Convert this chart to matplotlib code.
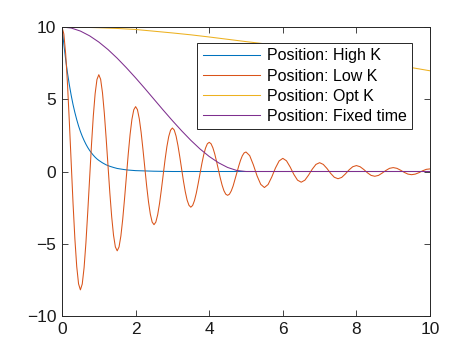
import matplotlib
matplotlib.use('Agg')
import matplotlib.pyplot as plt
import numpy as np

# time grids
t_fine = [round(0.05 * i, 2) for i in range(101)]          # 0 .. 5
t_coarse = [round(5.1 + 0.1 * i, 1) for i in range(50)]    # 5.1 .. 10

# Position: High K
t_high = [0, 0.05, 0.1, 0.15, 0.2, 0.25, 0.3, 0.35, 0.4, 0.45, 0.5, 0.55, 0.6, 0.65,
          0.7, 0.75, 0.8, 0.85, 0.9, 0.95, 1.0, 1.1, 1.2, 1.3, 1.4, 1.5, 1.6, 1.7,
          1.8, 1.9, 2.0, 2.5, 3.0, 10.0]
x_high = [10.0, 8.80, 7.74, 6.81, 5.99, 5.27, 4.63, 4.08, 3.59, 3.15, 2.77, 2.44, 2.15, 1.89,
          1.66, 1.46, 1.29, 1.13, 0.99, 0.87, 0.77, 0.60, 0.46, 0.36, 0.28, 0.21, 0.17, 0.13,
          0.10, 0.08, 0.06, 0.02, 0.0, 0.0]

# Position: Low K
x_low_fine = [10.00, 9.52, 8.13, 6.02, 3.41, 0.58, -2.20, -4.66, -6.57, -7.78,
              -8.19, -7.79, -6.66, -4.93, -2.79, -0.47, 1.80, 3.82, 5.38, 6.37,
              6.70, 6.38, 5.45, 4.04, 2.29, 0.39, -1.48, -3.13, -4.41, -5.22,
              -5.49, -5.22, -4.46, -3.30, -1.87, -0.32, 1.21, 2.56, 3.61, 4.27,
              4.49, 4.28, 3.65, 2.71, 1.53, 0.26, -0.99, -2.09, -2.95, -3.50,
              -3.68, -3.50, -2.99, -2.22, -1.26, -0.21, 0.81, 1.72, 2.42, 2.86,
              3.01, 2.87, 2.45, 1.81, 1.03, 0.17, -0.66, -1.40, -1.98, -2.34,
              -2.47, -2.35, -2.01, -1.49, -0.84, -0.14, 0.54, 1.15, 1.62, 1.92,
              2.02, 1.92, 1.64, 1.22, 0.69, 0.12, -0.44, -0.94, -1.33, -1.57,
              -1.65, -1.57, -1.34, -1.00, -0.56, -0.10, 0.36, 0.77, 1.09, 1.29,
              1.35]
x_low_coarse = [1.10, 0.46, -0.30, -0.89, -1.11, -0.90, -0.38, 0.24, 0.73,
                0.91, 0.74, 0.31, -0.20, -0.60, -0.74, -0.60, -0.25, 0.16, 0.49,
                0.61, 0.49, 0.21, -0.13, -0.40, -0.50, -0.41, -0.17, 0.11, 0.33,
                0.41, 0.33, 0.14, -0.09, -0.27, -0.33, -0.27, -0.11, 0.07, 0.22,
                0.27, 0.22, 0.09, -0.06, -0.18, -0.22, -0.18, -0.08, 0.05, 0.15,
                0.18]

# Position: Opt K
t_opt = [0, 0.5, 1.0, 1.5, 2.0, 2.5, 3.0, 3.5, 4.0, 4.5, 5.0, 5.5, 6.0, 6.5, 7.0,
         7.5, 8.0, 8.5, 9.0, 9.5, 10.0]
x_opt = [10.0, 9.99, 9.95, 9.90, 9.83, 9.71, 9.59, 9.46, 9.31, 9.15, 8.99, 8.84, 8.66,
         8.46, 8.25, 8.03, 7.81, 7.60, 7.39, 7.19, 6.97]

# Position: Fixed time
t_fixed = [0, 0.25, 0.5, 0.75, 1.0, 1.25, 1.5, 1.75, 2.0, 2.25, 2.5, 2.75, 3.0, 3.25,
           3.5, 3.75, 4.0, 4.25, 4.5, 4.75, 5.0, 10.0]
x_fixed = [10.0, 9.93, 9.72, 9.39, 8.96, 8.44, 7.84, 7.18, 6.48, 5.75, 5.00, 4.25, 3.52,
           2.82, 2.16, 1.56, 1.04, 0.61, 0.28, 0.07, 0.0, 0.0]

labels = ['Position: High K', 'Position: Low K', 'Position: Opt K', 'Position: Fixed time']
colors = ['#0072BD', '#D95319', '#EDB120', '#7E2F8E']

plt.rcParams['font.family'] = ['Liberation Sans', 'DejaVu Sans']
axis_col = '#262626'

fig = plt.figure(figsize=(4.74, 3.55), dpi=100)
ax = fig.add_axes([0.1308, 0.1099, 0.7764, 0.814])

lw = 0.75
ax.plot(t_high, x_high, color=colors[0], lw=lw, label=labels[0])
ax.plot(t_fine + t_coarse, x_low_fine + x_low_coarse, color=colors[1], lw=lw, label=labels[1])
ax.plot(t_opt, x_opt, color=colors[2], lw=lw, label=labels[2])
ax.plot(t_fixed, x_fixed, color=colors[3], lw=lw, label=labels[3])

ax.set_xlim(0, 10)
ax.set_ylim(-10, 10)
ax.set_xticks([0, 2, 4, 6, 8, 10])
ax.set_yticks([-10, -5, 0, 5, 10])
ax.tick_params(direction='in', top=True, right=True, length=4, width=0.6,
               colors=axis_col, labelsize=12.5, labelcolor='#1a1a1a', pad=4)
for sp in ax.spines.values():
    sp.set_color(axis_col)
    sp.set_linewidth(0.7)

leg = ax.legend(loc='upper right', bbox_to_anchor=(0.951, 0.945), fontsize=11.5,
                fancybox=False, framealpha=1, edgecolor=axis_col, borderaxespad=0,
                handlelength=3.6, handletextpad=0.4, labelspacing=0.32,
                borderpad=0.35)
leg.get_frame().set_linewidth(0.7)

fig.savefig('out.png', dpi=100)
